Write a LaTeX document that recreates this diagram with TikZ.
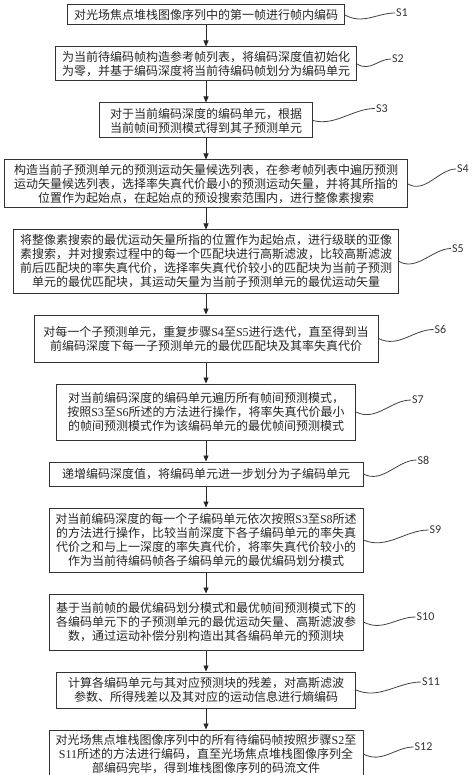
\documentclass[tikz,border=0pt]{standalone}
\usepackage{fontspec}
\setmainfont{Liberation Serif}
\newfontfamily\cjk{Noto Sans CJK SC}
\newfontfamily\tagfont{Carlito}
\newcommand\latn[1]{{\rmfamily #1}}
\usetikzlibrary{arrows.meta, positioning}

\begin{document}
\begin{tikzpicture}[x=1pt, y=-1pt, node distance=21pt,
    box/.style={draw=black!80, line width=1pt, align=center, inner sep=2pt, text=black!85, font=\cjk\fontsize{12}{14}\selectfont},
    tag/.style={inner sep=1pt, text=black!80, font=\tagfont\fontsize{12}{13}\selectfont},
    wave/.style={draw=black!75, line width=0.8pt},
    flow/.style={draw=black!85, line width=0.9pt, -{Triangle[length=6pt, width=5pt]}}]
    \useasboundingbox (0,0) rectangle (474,775);

    \node[box, minimum width=277pt, minimum height=20pt] (b1) at (206,15) {对光场焦点堆栈图像序列中的第一帧进行帧内编码};
    \node[box, below=of b1, minimum width=301pt, minimum height=34pt] (b2) {为当前待编码帧构造参考帧列表，将编码深度值初始化\\为零，并基于编码深度将当前待编码帧划分为编码单元};
    \node[box, below=of b2, minimum width=213pt, minimum height=35pt] (b3) {对于当前编码深度的编码单元，根据\\当前帧间预测模式得到其子预测单元};
    \node[box, below=of b3, minimum width=403pt, minimum height=48pt] (b4) {构造当前子预测单元的预测运动矢量候选列表，在参考帧列表中遍历预测\\运动矢量候选列表，选择率失真代价最小的预测运动矢量，并将其所指的\\位置作为起始点，在起始点的预设搜索范围内，进行整像素搜索};
    \node[box, below=of b4, minimum width=385pt, minimum height=63pt] (b5) {将整像素搜索的最优运动矢量所指的位置作为起始点，进行级联的亚像\\素搜索，并对搜索过程中的每一个匹配块进行高斯滤波，比较高斯滤波\\前后匹配块的率失真代价，选择率失真代价较小的匹配块为当前子预测\\单元的最优匹配块，其运动矢量为当前子预测单元的最优运动矢量};
    \node[box, below=of b5, minimum width=344pt, minimum height=47pt] (b6) {对每一个子预测单元，重复步骤\latn{S4}至\latn{S5}进行迭代，直至得到当\\前编码深度下每一子预测单元的最优匹配块及其率失真代价};
    \node[box, below=of b6, minimum width=299pt, minimum height=56pt] (b7) {对当前编码深度的编码单元遍历所有帧间预测模式，\\按照\latn{S3}至\latn{S6}所述的方法进行操作，将率失真代价最小\\的帧间预测模式作为该编码单元的最优帧间预测模式};
    \node[box, below=of b7, minimum width=314pt, minimum height=24pt] (b8) {递增编码深度值，将编码单元进一步划分为子编码单元};
    \node[box, below=of b8, minimum width=314pt, minimum height=64pt] (b9) {对当前编码深度的每一个子编码单元依次按照\latn{S3}至\latn{S8}所述\\的方法进行操作，比较当前深度下各子编码单元的率失真\\代价之和与上一深度的率失真代价，将率失真代价较小的\\作为当前待编码帧各子编码单元的最优编码划分模式};
    \node[box, below=of b9, minimum width=314pt, minimum height=56pt] (b10) {基于当前帧的最优编码划分模式和最优帧间预测模式下的\\各编码单元下的子预测单元的最优运动矢量、高斯滤波参\\数，通过运动补偿分别构造出其各编码单元的预测块};
    \node[box, below=of b10, minimum width=299pt, minimum height=36pt] (b11) {计算各编码单元与其对应预测块的残差，对高斯滤波\\参数、所得残差以及其对应的运动信息进行熵编码};
    \node[box, below=of b11, minimum width=314pt, minimum height=48pt] (b12) {对光场焦点堆栈图像序列中的所有待编码帧按照步骤\latn{S2}至\\\latn{S11}所述的方法进行编码，直至光场焦点堆栈图像序列全\\部编码完毕，得到堆栈图像序列的码流文件};

    \draw[flow] (b1) -- (b2);
    \draw[flow] (b2) -- (b3);
    \draw[flow] (b3) -- (b4);
    \draw[flow] (b4) -- (b5);
    \draw[flow] (b5) -- (b6);
    \draw[flow] (b6) -- (b7);
    \draw[flow] (b7) -- (b8);
    \draw[flow] (b8) -- (b9);
    \draw[flow] (b9) -- (b10);
    \draw[flow] (b10) -- (b11);
    \draw[flow] (b11) -- (b12);

    \node[tag, right=50pt of b1.east, yshift=2pt] (s1) {S1};
    \node[tag, right=34pt of b2.east, yshift=5pt] (s2) {S2};
    \node[tag, right=62pt of b3.east, yshift=12pt] (s3) {S3};
    \node[tag, right=48pt of b4.east, yshift=15pt] (s4) {S4};
    \node[tag, right=52pt of b5.east, yshift=13pt] (s5) {S5};
    \node[tag, right=55pt of b6.east, yshift=9pt] (s6) {S6};
    \node[tag, right=55pt of b7.east, yshift=12pt] (s7) {S7};
    \node[tag, right=53pt of b8.east, yshift=14pt] (s8) {S8};
    \node[tag, right=65pt of b9.east, yshift=10pt] (s9) {S9};
    \node[tag, right=52pt of b10.east, yshift=5pt] (s10) {S10};
    \node[tag, right=65pt of b11.east, yshift=8pt] (s11) {S11};
    \node[tag, right=50pt of b12.east, yshift=7pt] (s12) {S12};

    \draw[wave] (b1.east) .. controls ([xshift=18pt, yshift=-10pt]b1.east) and ([xshift=-18pt]s1.west) .. (s1.west);
    \draw[wave] (b2.east) .. controls ([xshift=13pt, yshift=-8pt]b2.east) and ([xshift=-13pt]s2.west) .. (s2.west);
    \draw[wave] (b3.east) .. controls ([xshift=22pt, yshift=-6pt]b3.east) and ([xshift=-22pt]s3.west) .. (s3.west);
    \draw[wave] (b4.east) .. controls ([xshift=17pt, yshift=-10pt]b4.east) and ([xshift=-17pt]s4.west) .. (s4.west);
    \draw[wave] (b5.east) .. controls ([xshift=18pt, yshift=-10pt]b5.east) and ([xshift=-18pt]s5.west) .. (s5.west);
    \draw[wave] (b6.east) .. controls ([xshift=20pt, yshift=-10pt]b6.east) and ([xshift=-20pt]s6.west) .. (s6.west);
    \draw[wave] (b7.east) .. controls ([xshift=20pt, yshift=-10pt]b7.east) and ([xshift=-20pt]s7.west) .. (s7.west);
    \draw[wave] (b8.east) .. controls ([xshift=19pt, yshift=-10pt]b8.east) and ([xshift=-19pt]s8.west) .. (s8.west);
    \draw[wave] (b9.east) .. controls ([xshift=23pt, yshift=-10pt]b9.east) and ([xshift=-23pt]s9.west) .. (s9.west);
    \draw[wave] (b10.east) .. controls ([xshift=19pt, yshift=-10pt]b10.east) and ([xshift=-19pt]s10.west) .. (s10.west);
    \draw[wave] (b11.east) .. controls ([xshift=23pt, yshift=-10pt]b11.east) and ([xshift=-23pt]s11.west) .. (s11.west);
    \draw[wave] (b12.east) .. controls ([xshift=18pt, yshift=-10pt]b12.east) and ([xshift=-18pt]s12.west) .. (s12.west);
\end{tikzpicture}
\end{document}
